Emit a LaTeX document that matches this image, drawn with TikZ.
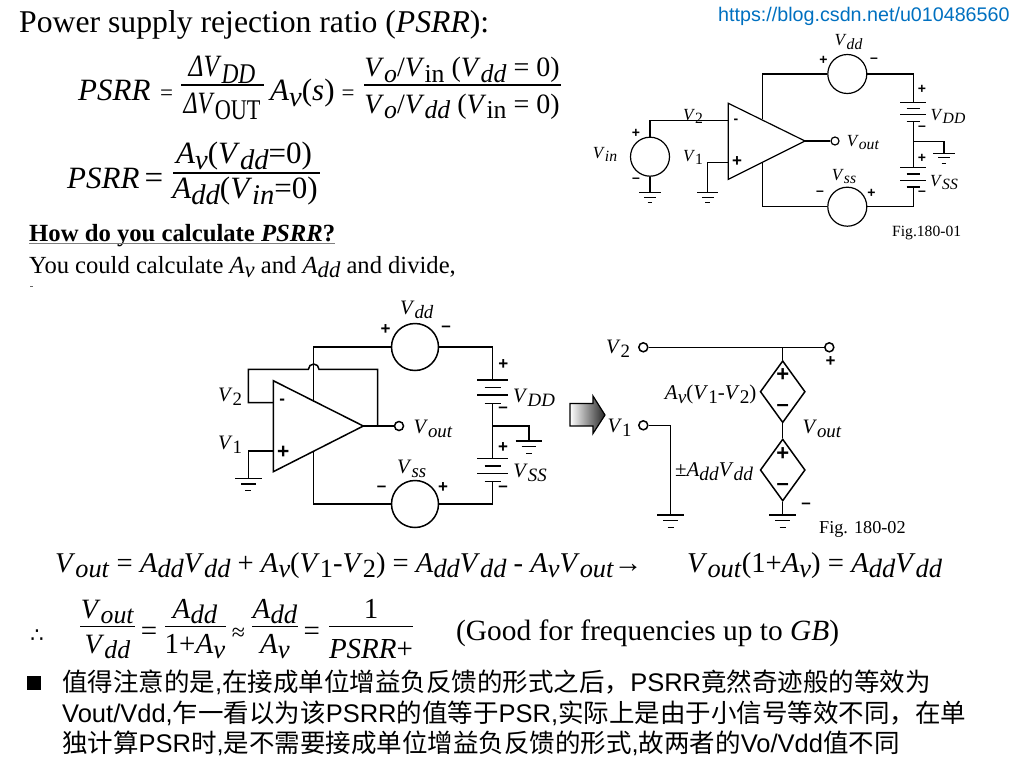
\documentclass[tikz,border=0pt]{standalone}
\usepackage{fontspec}
\setmainfont{Liberation Serif}
\newfontfamily\cjkf{Noto Sans CJK SC}
\newfontfamily\arialf{Liberation Sans}
\newfontfamily\symf{DejaVu Sans}
\usetikzlibrary{shapes.geometric}
\newcommand\fz[1]{\fontsize{#1}{#1}\selectfont}
\newcommand\sq[2]{\scalebox{#1}[1]{#2}}
\newcommand\lo[1]{\lower.2em\hbox{\scalebox{.92}{#1}}}
\newcommand\Vs[1]{\textit{V}\lo{\textit{#1}}}
\newcommand\Vr[1]{\textit{V}\lo{#1}}
\newcommand\As[1]{\textit{A}\lo{\textit{#1}}}
\tikzset{
	txt/.style={anchor=base west, inner sep=0pt},
	mid/.style={anchor=base, inner sep=0pt},
	wireT/.style={line width=1.2pt},
	wireB/.style={line width=1.5pt},
	srcT/.style={circle, draw, line width=1.2pt, minimum size=39pt, inner sep=0pt},
	srcB/.style={circle, draw, line width=1.5pt, minimum size=47pt, inner sep=0pt},
	termT/.style={circle, draw, line width=1.2pt, fill=white, minimum size=8pt, inner sep=0pt},
	termB/.style={circle, draw, line width=1.5pt, fill=white, minimum size=9pt, inner sep=0pt},
	dep/.style={diamond, draw, line width=1.5pt, aspect=.72, minimum width=45pt, minimum height=62pt, inner sep=0pt},
	signT/.style={inner sep=0pt, font=\arialf\bfseries\fz{14}},
	signB/.style={inner sep=0pt, font=\arialf\bfseries\fz{17}},
	labT/.style={mid, font=\fz{17}},
	labB/.style={mid, font=\fz{20.5}},
	pics/gnd/.style={code={
		\draw (-13.3,0) -- (13.3,0);
		\draw (-7.3,5.7) -- (7.3,5.7);
		\draw (-3,12.3) -- (3,12.3);
	}},
	pics/bat/.style={code={
		\draw (-15.5,0) -- (15.5,0);
		\draw (-8,7.7) -- (8,7.7);
		\draw (-15.5,15) -- (15.5,15);
		\draw (-8,23.3) -- (8,23.3);
	}},
}
\begin{document}
\begin{tikzpicture}[x=1pt,y=-1pt]
	\useasboundingbox (0,0) rectangle (1019,768);
	
	%%%%% HEADER AND FORMULAS %%%%%
	\node[txt, font=\arialf\fz{19.7}, text={rgb,255:red,0;green,112;blue,192}] (url) at (718,22) {https://blog.csdn.net/u010486560};
	\node[txt, font=\fz{31.7}] (title) at (19,33) {Power supply rejection ratio (\textit{PSRR}):};
	
	\node[txt, font=\fz{31}] (psrrA) at (78,100) {\textit{PSRR}};
	\node[mid, font=\fz{23}] (eqA) at (166.5,100) {=};
	\node[mid, font=\fz{31}] (numA) at (222,77) {\sq{.82}{\textit{ΔV}\lo{\textit{DD}}}};
	\node[mid, font=\fz{31}] (denA) at (222,113) {\sq{.78}{\textit{ΔV}\lo{OUT}}};
	\draw[line width=1.3pt] (181,85) -- (264,85);
	\node[txt, font=\fz{31}] (avs) at (270,100) {\As{v}(\textit{s})};
	\node[mid, font=\fz{23}] (eqB) at (348,100) {=};
	\node[mid, font=\fz{28}] (numB) at (462,77) {\Vs{o}/\Vr{in} (\Vs{dd} = 0)};
	\node[mid, font=\fz{28}] (denB) at (462,113) {\Vs{o}/\Vs{dd} (\Vr{in} = 0)};
	\draw[line width=1.3pt] (364,85) -- (561,85);
	
	\node[txt, font=\fz{31}] (psrrB) at (67,188) {\textit{PSRR}};
	\node[mid, font=\fz{33}] (eqC) at (154,188) {=};
	\node[mid, font=\fz{31}] (numC) at (244,163) {\As{v}(\Vs{dd}=0)};
	\node[mid, font=\fz{31}] (denC) at (245,198) {\As{dd}(\Vs{in}=0)};
	\draw[line width=1.3pt] (173,173) -- (320,173);
	
	\node[txt, font=\bfseries\fz{24.7}] (how) at (29,241) {How do you calculate \textit{PSRR}?};
	\draw[line width=.8pt, black!50] (29,243.5) -- (335,243.5);
	\node[txt, font=\fz{24.6}] (you) at (29,273) {You could calculate \As{v} and \As{dd} and divide,};
	\draw[line width=.8pt, black!60] (30,286) -- (33,286);
	
	%%%%% TOP CIRCUIT %%%%%
	\node[srcT] (vddT) at (847.3,74) {};
	\node[srcT] (vssT) at (847.3,206.7) {};
	\node[srcT] (vinT) at (650,156.7) {};
	\node[termT] (outT) at (835,141) {};
	\coordinate (opTa) at (728.3,103.3);
	\coordinate (opTb) at (728.3,179.3);
	\coordinate (opTc) at (805,141);
	\draw[wireT] (opTa) -- (opTb) -- (opTc) -- cycle;
	\draw[wireT] (opTc) -- (outT);
	\draw[wireT] (762.3,119) -- (762.3,74) -- (vddT.west);
	\draw[wireT] (762.3,162.7) -- (762.3,206.7) -- (vssT.west);
	\draw[wireT] (vddT.east) -- (913.3,74) -- (913.3,102.3);
	\draw[wireT] (vssT.east) -- (913.3,206.7) -- (913.3,187.3);
	\draw[wireT] (913.3,121) -- (913.3,167.7);
	\draw[wireT] (913.3,141.7) -- (944,141.7) -- (944,153.3);
	\pic[wireT, scale=.83] at (913.3,102.3) {bat};
	\pic[wireT, scale=.83] at (913.3,167.7) {bat};
	\pic[wireT, scale=.8] at (944,153.3) {gnd};
	\draw[wireT] (728.3,120.7) -- (650,120.7) -- (vinT.north);
	\draw[wireT] (vinT.south) -- (650,192.7);
	\pic[wireT, scale=.8] at (650,192.7) {gnd};
	\draw[wireT] (728.3,162.3) -- (707.7,162.3) -- (707.7,192.7);
	\pic[wireT, scale=.8] at (707.7,192.7) {gnd};
	
	\node[labT] (labVddT) at (848.5,46) {\Vs{dd}};
	\node[labT] (labVssT) at (844,180) {\Vs{ss}};
	\node[labT] (labVDDT) at (948,120) {\Vs{DD}};
	\node[labT] (labVSST) at (944,186) {\Vs{SS}};
	\node[labT] (labVoutT) at (863,146) {\Vs{out}};
	\node[labT] (labVbT) at (693,120) {\Vr{2}};
	\node[labT] (labVaT) at (693,161) {\Vr{1}};
	\node[labT] (labVinT) at (605,158) {\Vs{in}};
	\node[signT] (sa) at (823.5,60) {+};
	\node[signT] (sb) at (874,60) {–};
	\node[signT] (sc) at (922,89) {+};
	\node[signT] (sd) at (922,128) {–};
	\node[signT] (se) at (922,158.5) {+};
	\node[signT] (sf) at (922,193) {–};
	\node[signT] (sg) at (820,193.5) {–};
	\node[signT] (sh) at (871.5,193.5) {+};
	\node[signT] (si) at (636,133) {+};
	\node[signT] (sj) at (636,180) {–};
	\node[signT] (sk) at (736,121) {-};
	\node[signT, font=\arialf\bfseries\fz{17}] (sl) at (737,162) {+};
	\node[txt, font=\fz{15.6}] (figA) at (892,236) {Fig.180-01};
	
	%%%%% BOTTOM LEFT CIRCUIT %%%%%
	\node[srcB] (vddB) at (415,347) {};
	\node[srcB] (vssB) at (415,504) {};
	\node[termB] (outB) at (399,426) {};
	\coordinate (opBa) at (273.3,380.7);
	\coordinate (opBb) at (273.3,471.7);
	\coordinate (opBc) at (363.3,426);
	\draw[wireB] (opBa) -- (opBb) -- (opBc) -- cycle;
	\draw[wireB] (opBc) -- (outB);
	\draw[wireB] (313.7,401.7) -- (313.7,347) -- (vddB.west);
	\draw[wireB] (313.7,451) -- (313.7,504) -- (vssB.west);
	\draw[wireB] (377.7,426) -- (377.7,369.3) -- (319,369.3) arc (0:-180:5.3) -- (248.3,369.3) -- (248.3,402.7) -- (273.3,402.7);
	\draw[wireB] (273.3,451) -- (248.3,451) -- (248.3,478.3);
	\pic[wireB] at (248.3,478.3) {gnd};
	\draw[wireB] (vddB.east) -- (492.7,347) -- (492.7,380);
	\draw[wireB] (vssB.east) -- (492.7,504) -- (492.7,481.6);
	\draw[wireB] (492.7,403.3) -- (492.7,458.3);
	\draw[wireB] (492.7,426) -- (529,426) -- (529,441);
	\pic[wireB] at (492.7,380) {bat};
	\pic[wireB] at (492.7,458.3) {bat};
	\pic[wireB] at (529,441) {gnd};
	
	\node[labB] (labVddB) at (416.7,314) {\Vs{dd}};
	\node[labB] (labVssB) at (411.7,473) {\Vs{ss}};
	\node[labB] (labVDDB) at (534,402) {\Vs{DD}};
	\node[labB] (labVSSB) at (530,477) {\Vs{SS}};
	\node[labB] (labVoutB) at (433,433) {\Vs{out}};
	\node[labB] (labVbB) at (230,401) {\Vr{2}};
	\node[labB] (labVaB) at (230,449) {\Vr{1}};
	\node[signB] (ta) at (385.7,330) {+};
	\node[signB] (tb) at (446,329) {–};
	\node[signB] (tc) at (503.3,364.3) {+};
	\node[signB] (td) at (503,410) {–};
	\node[signB] (te) at (503,447.7) {+};
	\node[signB] (tf) at (503,488.3) {–};
	\node[signB] (tg) at (381.7,488.5) {–};
	\node[signB] (th) at (443,488) {+};
	\node[signB] (ti) at (282.3,402) {-};
	\node[signB, font=\arialf\bfseries\fz{21}] (tj) at (283.3,452) {+};
	
	%%%%% ARROW %%%%%
	\shade[draw, line width=1.2pt, left color=white, right color=black!85]
		(570,403.5) -- (593,403.5) -- (593,396) -- (605,415) -- (593,433.5) -- (593,426) -- (570,426) -- cycle;
	
	%%%%% BOTTOM RIGHT CIRCUIT %%%%%
	\node[termB] (vTwo) at (643.3,347.3) {};
	\node[termB] (vOne) at (643.3,425.3) {};
	\node[termB] (vPos) at (829.3,347.3) {};
	\node[dep] (depA) at (782.7,391.7) {};
	\node[dep] (depB) at (782.7,470) {};
	\coordinate (busTap) at (782.7,347.3);
	\coordinate (gndA) at (782.7,515);
	\coordinate (gndB) at (670.7,515);
	\draw[wireB] (vTwo) -- (vPos);
	\draw[wireB] (busTap) -- (depA.north);
	\draw[wireB] (depA.south) -- (depB.north);
	\draw[wireB] (depB.south) -- (gndA);
	\draw[wireB] (vOne) -- (670.7,425.3) -- (gndB);
	\pic[wireB] at (gndA) {gnd};
	\pic[wireB] at (gndB) {gnd};
	
	\node[labB] (labVb) at (618,353) {\Vr{2}};
	\node[labB] (labVa) at (619.5,432) {\Vr{1}};
	\node[mid, font=\fz{21}] (labDepA) at (710.7,399) {\As{v}(\Vr{1}-\Vr{2})};
	\node[labB] (labVout) at (822,433) {\Vs{out}};
	\node[mid, font=\fz{21}] (labDepB) at (714,476) {±\As{dd}\Vs{dd}};
	\node[signB, font=\arialf\bfseries\fz{22}] (ua) at (782.7,375) {+};
	\node[signB, font=\arialf\bfseries\fz{22}] (ub) at (782.7,408) {–};
	\node[signB, font=\arialf\bfseries\fz{22}] (uc) at (782.7,454) {+};
	\node[signB, font=\arialf\bfseries\fz{22}] (ud) at (782.7,487) {–};
	\node[signB] (ue) at (830.7,362) {+};
	\node[signB] (uf) at (806,506) {–};
	\node[txt, font=\fz{18.2}] (figB) at (819,533) {Fig. 180-02};
	
	%%%%% LOWER FORMULAS %%%%%
	\node[txt, font=\fz{28.6}] (eqnL) at (55,572) {\Vs{out} = \As{dd}\Vs{dd} + \As{v}(\Vr{1}-\Vr{2}) = \As{dd}\Vs{dd} - \As{v}\Vs{out}→};
	\node[txt, font=\fz{28.7}] (eqnR) at (687,572) {\Vs{out}(1+\As{v}) = \As{dd}\Vs{dd}};
	
	\node[mid, font=\symf\fz{21}] (therefore) at (37,642) {∴};
	\node[mid, font=\fz{28}] (fnA) at (107.5,618) {\Vs{out}};
	\node[mid, font=\fz{28}] (fdA) at (107.5,653) {\Vs{dd}};
	\draw[line width=1.1pt] (80,626.7) -- (135,626.7);
	\node[mid, font=\fz{29}] (ea) at (149,640) {=};
	\node[mid, font=\fz{29}] (fnB) at (195,618) {\As{dd}};
	\node[mid, font=\fz{29}] (fdB) at (195,653) {1+\As{v}};
	\draw[line width=1.1pt] (165,626.7) -- (225.7,626.7);
	\node[mid, font=\fz{24}] (eb) at (238.5,640) {≈};
	\node[mid, font=\fz{29}] (fnC) at (275,618) {\As{dd}};
	\node[mid, font=\fz{29}] (fdC) at (275,653) {\As{v}};
	\draw[line width=1.1pt] (252,626.7) -- (298,626.7);
	\node[mid, font=\fz{29}] (ec) at (311.7,640) {=};
	\node[mid, font=\fz{29}] (fnD) at (371,618) {1};
	\node[mid, font=\fz{29}] (fdD) at (371,658) {\textit{PSRR}+};
	\draw[line width=1.1pt] (329,626.7) -- (413,626.7);
	\node[txt, font=\fz{29.4}] (good) at (456,640) {(Good for frequencies up to \textit{GB})};
	
	%%%%% NOTE %%%%%
	\fill (27,676) rectangle (41,690);
	\node[txt, font=\arialf\fz{25.5}] (noteA) at (62,691) {{\cjkf 值得注意的是},{\cjkf 在接成单位增益负反馈的形式之后，}PSRR{\cjkf 竟然奇迹般的等效为}};
	\node[txt, font=\arialf\fz{25.5}] (noteB) at (62,722) {Vout/Vdd,{\cjkf 乍一看以为该}PSRR{\cjkf 的值等于}PSR,{\cjkf 实际上是由于小信号等效不同，在单}};
	\node[txt, font=\arialf\fz{25.5}] (noteC) at (62,752) {{\cjkf 独计算}PSR{\cjkf 时},{\cjkf 是不需要接成单位增益负反馈的形式},{\cjkf 故两者的}Vo/Vdd{\cjkf 值不同}};
\end{tikzpicture}
\end{document}
